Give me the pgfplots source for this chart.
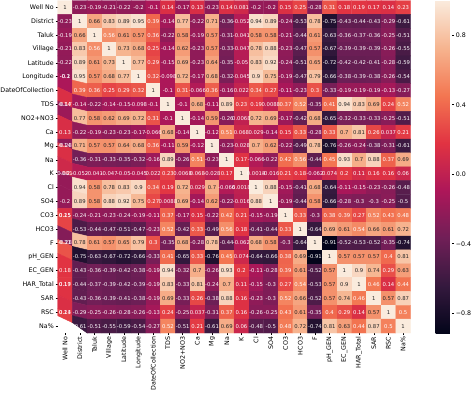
\documentclass[border=0pt]{standalone}
\usepackage{pgfplots}
\pgfplotsset{compat=1.18}
\usepackage{pgfplotstable}
\usepackage{fontspec}
\setmainfont{DejaVu Sans}
\definecolor{dk}{rgb}{0.15,0.15,0.15}
% correlation matrix, row by row (Well No ... Na%)
\pgfplotstableread[row sep=\\]{
v\\
1\\ -0.23\\ -0.19\\ -0.21\\ -0.22\\ -0.2\\ -0.1\\ 0.14\\ -0.17\\ 0.13\\ -0.23\\ 0.14\\ 0.081\\ -0.2\\ -0.2\\ 0.15\\ 0.25\\ -0.28\\ 0.31\\ 0.18\\ 0.19\\ 0.17\\ 0.14\\ 0.23\\
-0.23\\ 1\\ 0.66\\ 0.83\\ 0.89\\ 0.95\\ 0.39\\ -0.14\\ 0.77\\ -0.22\\ 0.71\\ -0.36\\ -0.052\\ 0.94\\ 0.89\\ -0.24\\ -0.53\\ 0.78\\ -0.75\\ -0.43\\ -0.44\\ -0.43\\ -0.29\\ -0.61\\
-0.19\\ 0.66\\ 1\\ 0.56\\ 0.61\\ 0.57\\ 0.36\\ -0.22\\ 0.58\\ -0.19\\ 0.57\\ -0.31\\ -0.041\\ 0.58\\ 0.58\\ -0.21\\ -0.44\\ 0.61\\ -0.63\\ -0.36\\ -0.37\\ -0.36\\ -0.25\\ -0.51\\
-0.21\\ 0.83\\ 0.56\\ 1\\ 0.73\\ 0.68\\ 0.25\\ -0.14\\ 0.62\\ -0.23\\ 0.57\\ -0.33\\ -0.047\\ 0.78\\ 0.88\\ -0.23\\ -0.47\\ 0.57\\ -0.67\\ -0.39\\ -0.39\\ -0.39\\ -0.26\\ -0.55\\
-0.22\\ 0.89\\ 0.61\\ 0.73\\ 1\\ 0.77\\ 0.29\\ -0.15\\ 0.69\\ -0.23\\ 0.64\\ -0.35\\ -0.05\\ 0.83\\ 0.92\\ -0.24\\ -0.51\\ 0.65\\ -0.72\\ -0.42\\ -0.42\\ -0.41\\ -0.28\\ -0.59\\
-0.2\\ 0.95\\ 0.57\\ 0.68\\ 0.77\\ 1\\ 0.32\\ -0.098\\ 0.72\\ -0.17\\ 0.68\\ -0.32\\ -0.045\\ 0.9\\ 0.75\\ -0.19\\ -0.47\\ 0.79\\ -0.66\\ -0.38\\ -0.39\\ -0.38\\ -0.26\\ -0.54\\
-0.1\\ 0.39\\ 0.36\\ 0.25\\ 0.29\\ 0.32\\ 1\\ -0.1\\ 0.31\\ -0.066\\ 0.36\\ -0.16\\ 0.022\\ 0.34\\ 0.27\\ -0.11\\ -0.23\\ 0.3\\ -0.33\\ -0.19\\ -0.19\\ -0.19\\ -0.13\\ -0.27\\
0.14\\ -0.14\\ -0.22\\ -0.14\\ -0.15\\ -0.098\\ -0.1\\ 1\\ -0.1\\ 0.68\\ -0.11\\ 0.89\\ 0.23\\ 0.19\\ 0.0088\\ 0.37\\ 0.52\\ -0.35\\ 0.41\\ 0.94\\ 0.83\\ 0.69\\ 0.24\\ 0.52\\
-0.17\\ 0.77\\ 0.58\\ 0.62\\ 0.69\\ 0.72\\ 0.31\\ -0.1\\ 1\\ -0.14\\ 0.59\\ -0.26\\ 0.0068\\ 0.72\\ 0.69\\ -0.17\\ -0.42\\ 0.68\\ -0.65\\ -0.32\\ -0.33\\ -0.33\\ -0.25\\ -0.51\\
0.13\\ -0.22\\ -0.19\\ -0.23\\ -0.23\\ -0.17\\ -0.066\\ 0.68\\ -0.14\\ 1\\ -0.12\\ 0.51\\ 0.068\\ 0.029\\ -0.14\\ 0.15\\ 0.33\\ -0.28\\ 0.33\\ 0.7\\ 0.81\\ 0.26\\ 0.037\\ 0.21\\
-0.23\\ 0.71\\ 0.57\\ 0.57\\ 0.64\\ 0.68\\ 0.36\\ -0.11\\ 0.59\\ -0.12\\ 1\\ -0.23\\ -0.028\\ 0.7\\ 0.62\\ -0.22\\ -0.49\\ 0.78\\ -0.76\\ -0.26\\ -0.24\\ -0.38\\ -0.31\\ -0.61\\
0.14\\ -0.36\\ -0.31\\ -0.33\\ -0.35\\ -0.32\\ -0.16\\ 0.89\\ -0.26\\ 0.51\\ -0.23\\ 1\\ 0.17\\ -0.066\\ -0.22\\ 0.42\\ 0.56\\ -0.44\\ 0.45\\ 0.93\\ 0.7\\ 0.88\\ 0.37\\ 0.69\\
0.081\\ -0.052\\ -0.041\\ -0.047\\ -0.05\\ -0.045\\ 0.022\\ 0.23\\ 0.0068\\ 0.068\\ -0.028\\ 0.17\\ 1\\ 0.0018\\ -0.016\\ 0.21\\ 0.18\\ -0.062\\ 0.074\\ 0.2\\ 0.11\\ 0.16\\ 0.16\\ 0.06\\
-0.2\\ 0.94\\ 0.58\\ 0.78\\ 0.83\\ 0.9\\ 0.34\\ 0.19\\ 0.72\\ 0.029\\ 0.7\\ -0.066\\ 0.0018\\ 1\\ 0.88\\ -0.15\\ -0.41\\ 0.68\\ -0.64\\ -0.11\\ -0.15\\ -0.23\\ -0.26\\ -0.48\\
-0.2\\ 0.89\\ 0.58\\ 0.88\\ 0.92\\ 0.75\\ 0.27\\ 0.0088\\ 0.69\\ -0.14\\ 0.62\\ -0.22\\ -0.016\\ 0.88\\ 1\\ -0.19\\ -0.44\\ 0.58\\ -0.66\\ -0.28\\ -0.3\\ -0.3\\ -0.25\\ -0.5\\
0.15\\ -0.24\\ -0.21\\ -0.23\\ -0.24\\ -0.19\\ -0.11\\ 0.37\\ -0.17\\ 0.15\\ -0.22\\ 0.42\\ 0.21\\ -0.15\\ -0.19\\ 1\\ 0.33\\ -0.3\\ 0.38\\ 0.39\\ 0.27\\ 0.52\\ 0.43\\ 0.48\\
0.25\\ -0.53\\ -0.44\\ -0.47\\ -0.51\\ -0.47\\ -0.23\\ 0.52\\ -0.42\\ 0.33\\ -0.49\\ 0.56\\ 0.18\\ -0.41\\ -0.44\\ 0.33\\ 1\\ -0.64\\ 0.69\\ 0.61\\ 0.54\\ 0.66\\ 0.61\\ 0.72\\
-0.28\\ 0.78\\ 0.61\\ 0.57\\ 0.65\\ 0.79\\ 0.3\\ -0.35\\ 0.68\\ -0.28\\ 0.78\\ -0.44\\ -0.062\\ 0.68\\ 0.58\\ -0.3\\ -0.64\\ 1\\ -0.91\\ -0.52\\ -0.53\\ -0.52\\ -0.35\\ -0.74\\
0.31\\ -0.75\\ -0.63\\ -0.67\\ -0.72\\ -0.66\\ -0.33\\ 0.41\\ -0.65\\ 0.33\\ -0.76\\ 0.45\\ 0.074\\ -0.64\\ -0.66\\ 0.38\\ 0.69\\ -0.91\\ 1\\ 0.57\\ 0.57\\ 0.57\\ 0.4\\ 0.81\\
0.18\\ -0.43\\ -0.36\\ -0.39\\ -0.42\\ -0.38\\ -0.19\\ 0.94\\ -0.32\\ 0.7\\ -0.26\\ 0.93\\ 0.2\\ -0.11\\ -0.28\\ 0.39\\ 0.61\\ -0.52\\ 0.57\\ 1\\ 0.9\\ 0.74\\ 0.29\\ 0.63\\
0.19\\ -0.44\\ -0.37\\ -0.39\\ -0.42\\ -0.39\\ -0.19\\ 0.83\\ -0.33\\ 0.81\\ -0.24\\ 0.7\\ 0.11\\ -0.15\\ -0.3\\ 0.27\\ 0.54\\ -0.53\\ 0.57\\ 0.9\\ 1\\ 0.46\\ 0.14\\ 0.44\\
0.17\\ -0.43\\ -0.36\\ -0.39\\ -0.41\\ -0.38\\ -0.19\\ 0.69\\ -0.33\\ 0.26\\ -0.38\\ 0.88\\ 0.16\\ -0.23\\ -0.3\\ 0.52\\ 0.66\\ -0.52\\ 0.57\\ 0.74\\ 0.46\\ 1\\ 0.57\\ 0.87\\
0.14\\ -0.29\\ -0.25\\ -0.26\\ -0.28\\ -0.26\\ -0.13\\ 0.24\\ -0.25\\ 0.037\\ -0.31\\ 0.37\\ 0.16\\ -0.26\\ -0.25\\ 0.43\\ 0.61\\ -0.35\\ 0.4\\ 0.29\\ 0.14\\ 0.57\\ 1\\ 0.5\\
0.23\\ -0.61\\ -0.51\\ -0.55\\ -0.59\\ -0.54\\ -0.27\\ 0.52\\ -0.51\\ 0.21\\ -0.61\\ 0.69\\ 0.06\\ -0.48\\ -0.5\\ 0.48\\ 0.72\\ -0.74\\ 0.81\\ 0.63\\ 0.44\\ 0.87\\ 0.5\\ 1\\
}\corrtab
% cell positions: column index and (flipped) row index
\pgfplotstablecreatecol[create col/expr={mod(\pgfplotstablerow,24)}]{cx}\corrtab
\pgfplotstablecreatecol[create col/expr={23-floor(\pgfplotstablerow/24)}]{cy}\corrtab
\begin{document}
\begin{tikzpicture}
\path[use as bounding box] (0,0) rectangle (474pt,-394pt);
\begin{axis}[
  at={(57.7pt,-0.5pt)}, anchor=north west,
  scale only axis, width=352.8pt, height=332.5pt,
  xmin=-0.5, xmax=23.5, ymin=-0.5, ymax=23.5,
  enlargelimits=false,
  axis line style={draw=none},
  tick align=outside, major tick length=2.2pt,
  tick style={black, line width=0.5pt},
  xtick pos=bottom, ytick pos=left,
  xtick={0,...,23}, ytick={0,...,23},
  xticklabels={Well No,District,Taluk,Village,Latitude,Longitude,DateOfCollection,TDS,NO2+NO3,Ca,Mg,Na,K,Cl,SO4,CO3,HCO3,F,pH\_GEN,EC\_GEN,HAR\_Total,SAR,RSC,Na\%},
  yticklabels={Na\%,RSC,SAR,HAR\_Total,EC\_GEN,pH\_GEN,F,HCO3,CO3,SO4,Cl,K,Na,Mg,Ca,NO2+NO3,TDS,DateOfCollection,Longitude,Latitude,Village,Taluk,District,Well No},
  xticklabel style={rotate=90, anchor=east, font=\fontsize{6.3}{7}\selectfont, inner sep=1.5pt},
  yticklabel style={anchor=east, font=\fontsize{6.3}{7}\selectfont, inner sep=1.5pt},
  colormap={rocket}{rgb255(0cm)=(3,5,26) rgb255(1cm)=(53,25,62) rgb255(2cm)=(112,31,87) rgb255(3cm)=(173,23,89) rgb255(4cm)=(225,51,66) rgb255(5cm)=(243,118,81) rgb255(6cm)=(246,180,143) rgb255(7cm)=(250,235,221)},
  point meta min=-0.914, point meta max=1,
  colorbar,
  colorbar style={
    at={(parent axis.north east)}, anchor=north west, xshift=16.5pt, yshift=0pt,
    scale only axis, width=16.5pt, height=332.5pt,
    axis line style={draw=none},
    ytick={-0.8,-0.4,0,0.4,0.8},
    yticklabels={−0.8,−0.4,0.0,0.4,0.8},
    yticklabel style={font=\fontsize{6.3}{7}\selectfont, inner sep=1.5pt},
    major tick length=2.2pt, tick align=outside,
    ytick pos=right, yticklabel pos=right,
    tick style={black, line width=0.5pt},
  },
]
\addplot[matrix plot*, mesh/cols=24, point meta=explicit]
  table[x=cx, y=cy, meta=v]{\corrtab};
\addplot[only marks, mark=none, point meta=explicit symbolic,
  nodes near coords={\pgfmathparse{\pgfplotspointmeta>0.565}\ifdim\pgfmathresult pt>0.5pt\color{dk}\else\color{white}\fi\pgfplotspointmeta},
  nodes near coords style={anchor=center, inner sep=0pt, font=\fontsize{5.3}{6}\selectfont}]
  table[x=cx, y=cy, meta=v]{\corrtab};
\end{axis}
\end{tikzpicture}
\end{document}
